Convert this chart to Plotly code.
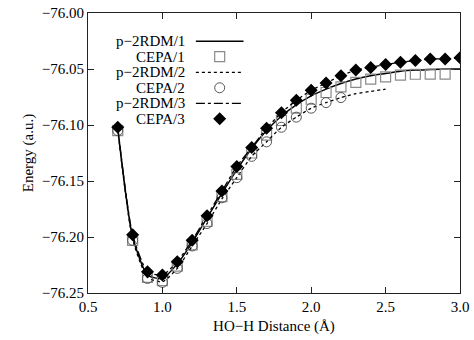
import plotly.graph_objects as go

# Data
dist_full = [0.7, 0.8, 0.9, 1.0, 1.1, 1.2, 1.3, 1.4, 1.5, 1.6, 1.7, 1.8, 1.9, 2.0,
             2.1, 2.2, 2.3, 2.4, 2.5, 2.6, 2.7, 2.8, 2.9, 3.0]
p2rdm1 = [-76.103, -76.200, -76.234, -76.237, -76.224, -76.205, -76.183, -76.161,
          -76.140, -76.121, -76.105, -76.092, -76.082, -76.074, -76.068, -76.063,
          -76.059, -76.056, -76.054, -76.052, -76.051, -76.0505, -76.050, -76.050]
dist_cepa1 = dist_full[:-1]
cepa1 = [-76.105, -76.203, -76.236, -76.239, -76.226, -76.207, -76.186, -76.164,
         -76.144, -76.125, -76.109, -76.096, -76.085, -76.077, -76.071, -76.066,
         -76.062, -76.059, -76.057, -76.0555, -76.0547, -76.0545, -76.0545]
dist_p2 = dist_full[:19]
p2rdm2 = [-76.104, -76.202, -76.236, -76.240, -76.228, -76.208, -76.188, -76.166,
          -76.147, -76.128, -76.115, -76.102, -76.093, -76.085, -76.080, -76.0755,
          -76.072, -76.070, -76.068]
dist_cepa2 = dist_full[:16]
cepa2 = [-76.105, -76.203, -76.237, -76.2405, -76.228, -76.208, -76.188, -76.165,
         -76.147, -76.128, -76.115, -76.102, -76.093, -76.085, -76.080, -76.0755]
p2rdm3 = [-76.102, -76.198, -76.231, -76.234, -76.222, -76.203, -76.181, -76.159,
          -76.137, -76.120, -76.103, -76.089, -76.078, -76.069, -76.0625, -76.056,
          -76.051, -76.0486, -76.046, -76.044, -76.0425, -76.041, -76.041, -76.040]
cepa3 = [-76.102, -76.198, -76.231, -76.234, -76.222, -76.203, -76.181, -76.159,
         -76.137, -76.120, -76.103, -76.089, -76.078, -76.069, -76.0625, -76.056,
         -76.051, -76.0486, -76.046, -76.044, -76.0425, -76.041, -76.041, -76.040]

labels = ["p\u22122RDM/1", "CEPA/1", "p\u22122RDM/2", "CEPA/2", "p\u22122RDM/3", "CEPA/3"]
x_ticks = [0.5, 1.0, 1.5, 2.0, 2.5, 3.0]
y_ticks = [-76.25, -76.20, -76.15, -76.10, -76.05, -76.00]

FONT = "Liberation Serif, Times New Roman, serif"
FS = 15
fig = go.Figure()

sq = dict(symbol="square-open", size=10, color="#8a8a8a", line=dict(width=1.2))
ci = dict(symbol="circle-open", size=10, color="#555555", line=dict(width=1))
di = dict(symbol="diamond", size=10, color="black")

fig.add_trace(go.Scatter(x=dist_full, y=p2rdm1, mode="lines", line=dict(color="black", width=1.5, shape="spline", smoothing=0.6)))
fig.add_trace(go.Scatter(x=dist_cepa1, y=cepa1, mode="markers", marker=sq))
fig.add_trace(go.Scatter(x=dist_p2, y=p2rdm2, mode="lines", line=dict(color="black", width=1.3, dash="dot", shape="spline", smoothing=0.6)))
fig.add_trace(go.Scatter(x=dist_cepa2, y=cepa2, mode="markers", marker=ci))
fig.add_trace(go.Scatter(x=dist_full, y=p2rdm3, mode="lines", line=dict(color="black", width=1.3, dash="dashdot", shape="spline", smoothing=0.6)))
fig.add_trace(go.Scatter(x=dist_full, y=cepa3, mode="markers", marker=di))

# Legend samples (overlay axis in 0..1 units)
rows = [0.899, 0.844, 0.788, 0.733, 0.677, 0.622]
lx0, lx1, lxm = 0.290, 0.418, 0.354
samples = [
    dict(mode="lines", line=dict(color="black", width=1.5)),
    dict(mode="markers", marker=sq),
    dict(mode="lines", line=dict(color="black", width=1.3, dash="dot")),
    dict(mode="markers", marker=ci),
    dict(mode="lines", line=dict(color="black", width=1.3, dash="dashdot")),
    dict(mode="markers", marker=di),
]
for r, s in zip(rows, samples):
    if s["mode"] == "lines":
        fig.add_trace(go.Scatter(x=[lx0, lx1], y=[r, r], xaxis="x2", yaxis="y2", **s))
    else:
        fig.add_trace(go.Scatter(x=[lxm], y=[r], xaxis="x2", yaxis="y2", **s))

for r, t in zip(rows, labels):
    fig.add_annotation(x=0.263, y=r, xref="x2", yref="y2", text=t, showarrow=False,
                       xanchor="right", yanchor="middle", borderpad=0,
                       font=dict(family=FONT, size=FS, color="black"))

axis_common = dict(showgrid=False, zeroline=False, showline=True, linecolor="#222", linewidth=1,
                   mirror="ticks", ticks="inside", ticklen=6, tickcolor="#222",
                   ticklabeloverflow="allow",
                   tickfont=dict(family=FONT, size=FS, color="black"))
fig.update_layout(
    width=474, height=340,
    margin=dict(l=88, r=10, t=5, b=47),
    paper_bgcolor="white", plot_bgcolor="white",
    showlegend=False,
    xaxis=dict(range=[0.5, 3.0], tickvals=x_ticks, tickformat=".1f",
               title=dict(text="HO\u2212H Distance (\u00c5)", font=dict(family=FONT, size=FS, color="black"), standoff=6),
               **axis_common),
    yaxis=dict(range=[-76.25, -76.00], tickvals=y_ticks, tickformat=".2f",
               title=dict(text="Energy (a.u.)", font=dict(family=FONT, size=FS, color="black"), standoff=4),
               **axis_common),
    xaxis2=dict(overlaying="x", range=[0, 1], visible=False),
    yaxis2=dict(overlaying="y", range=[0, 1], visible=False),
)

fig.write_html("out.html")
